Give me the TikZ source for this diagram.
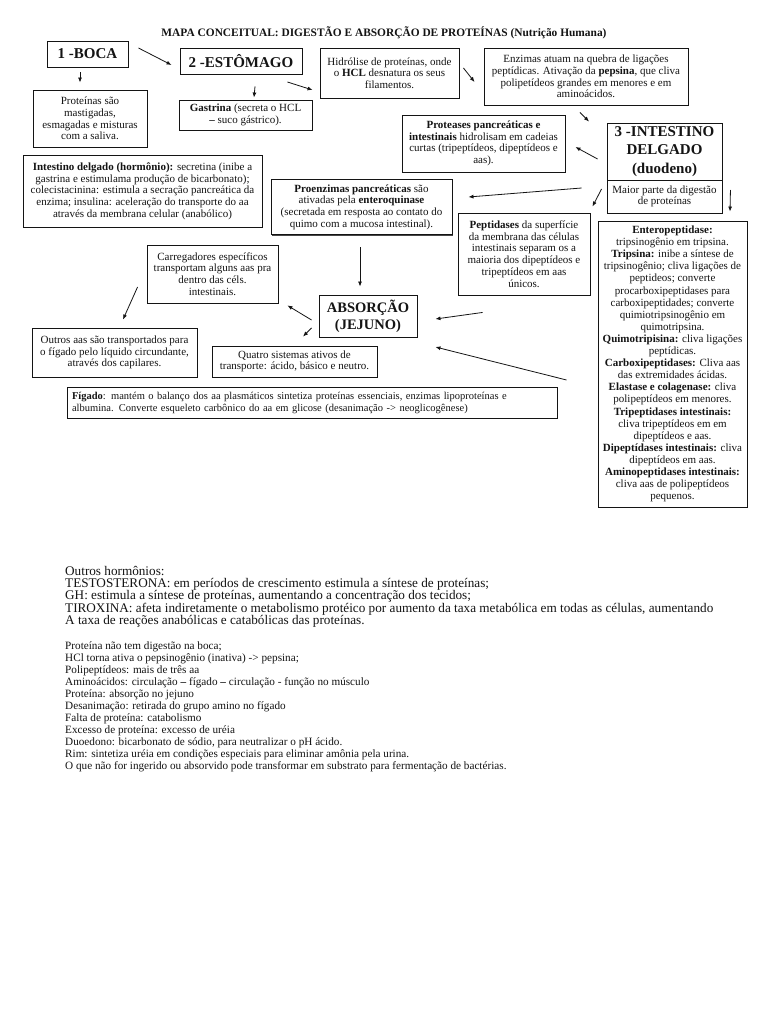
\documentclass[tikz,border=0pt]{standalone}
\usepackage{fontspec}
\setmainfont{Liberation Serif}
\usetikzlibrary{arrows.meta,calc,shadows}
\definecolor{mcInk}{RGB}{20,20,20}
\definecolor{mcShade}{RGB}{70,70,70}
\tikzset{
    base/.style={font=\fontsize{11}{11.7}\selectfont, align=center, text=mcInk},
    box/.style={base, rectangle, draw=mcInk, line width=0.9pt, fill=white, inner sep=2pt,
                drop shadow={shadow xshift=1pt, shadow yshift=-1pt, fill=mcShade, opacity=1}},
    head/.style={box, font=\fontsize{15}{18.5}\selectfont\bfseries},
    flow/.style={-{Latex[length=5pt,width=4pt]}, line width=0.8pt, color=mcInk},
    note/.style={font=\fontsize{13.2}{12}\selectfont, align=left, anchor=north west,
                 inner sep=0pt, text=mcInk}
}

\begin{document}
\begin{tikzpicture}[x=1pt, y=-1pt]
  \useasboundingbox[fill=white] (0,0) rectangle (768,1024);

  % Title
  \node[base, font=\fontsize{11.4}{12}\selectfont\bfseries] (title) at (384,33)
    {MAPA CONCEITUAL: DIGESTÃO E ABSORÇÃO DE PROTEÍNAS (Nutrição Humana)};

  % Organs
  \node[head, minimum width=81, minimum height=26] (boca) at (87.5,54) {1 -BOCA};
  \node[head, minimum width=122, minimum height=26] (estomago) at (241,61) {2 -ESTÔMAGO};
  \node[head, minimum width=115, minimum height=57] (intestino) at (664.5,151.5)
    {3 -INTESTINO\\DELGADO\\(duodeno)};
  \node[box, minimum width=115, minimum height=33] (intestinob) at (664.5,196.5)
    {Maior parte da digestão\\de proteínas};
  \node[head, font=\fontsize{14.5}{17}\selectfont\bfseries, minimum width=98, minimum height=42] (absorcao) at (368,316)
    {ABSORÇÃO\\(JEJUNO)};

  % Notes round the organs
  \node[box, minimum width=114, minimum height=57] (mastiga) at (90,118.5)
    {Proteínas são\\mastigadas,\\esmagadas e misturas\\com a saliva.};
  \node[box, minimum width=133, minimum height=30] (gastrina) at (245.5,115)
    {\textbf{Gastrina} (secreta o HCL\\\textbf{--} suco gástrico).};
  \node[box, minimum width=139, minimum height=50] (hidrolise) at (389.5,73)
    {Hidrólise de proteínas, onde\\o \textbf{HCL} desnatura os seus\\filamentos.};
  \node[box, minimum width=204, minimum height=57] (enzimas) at (586,76.5)
    {Enzimas atuam na quebra de ligações\\peptídicas. Ativação da \textbf{pepsina}, que cliva\\polipetídeos grandes em menores e em\\aminoácidos.};
  \node[box, minimum width=163, minimum height=57] (proteases) at (483.5,143.5)
    {\textbf{Proteases pancreáticas e}\\\textbf{intestinais} hidrolisam em cadeias\\curtas (tripeptídeos, dipeptídeos e\\aas).};
  \node[box, minimum width=239, minimum height=72] (hormonio) at (142.5,191)
    {\textbf{Intestino delgado (hormônio):} secretina (inibe a\\gastrina e estimulama produção de bicarbonato);\\colecistacinina: estimula a secração pancreática da\\enzima; insulina: aceleração do transporte do aa\\através da membrana celular (anabólico)};
  \node[box, minimum width=181, minimum height=55] (proenzimas) at (361.5,207)
    {\textbf{Proenzimas pancreáticas} são\\ativadas pela \textbf{enteroquinase}\\(secretada em resposta ao contato do\\quimo com a mucosa intestinal).};
  \node[box, minimum width=132, minimum height=82] (peptidases) at (524,254)
    {\textbf{Peptidases} da superfície\\da membrana das células\\intestinais separam os a\\maioria dos dipeptídeos e\\tripeptídeos em aas\\únicos.};
  \node[box, font=\fontsize{11}{12.1}\selectfont, minimum width=149, minimum height=286] (enteropep) at (672.5,364)
    {\textbf{Enteropeptidase:}\\tripsinogênio em tripsina.\\\textbf{Tripsina:} inibe a síntese de\\tripsinogênio; cliva ligações de\\peptideos; converte\\procarboxipeptidases para\\carboxipeptidades; converte\\quimiotripsinogênio em\\quimotripsina.\\\textbf{Quimotripisina:} cliva ligações\\peptídicas.\\\textbf{Carboxipeptidases:} Cliva aas\\das extremidades ácidas.\\\textbf{Elastase e colagenase:} cliva\\polipeptídeos em menores.\\\textbf{Tripeptidases intestinais:}\\cliva tripeptídeos em em\\dipeptídeos e aas.\\\textbf{Dipeptídases intestinais:} cliva\\dipeptídeos em aas.\\\textbf{Aminopeptidases intestinais:}\\cliva aas de polipeptídeos\\pequenos.};
  \node[box, minimum width=131, minimum height=58] (carregadores) at (212.5,274)
    {Carregadores específicos\\transportam alguns aas pra\\dentro das céls.\\intestinais.};
  \node[box, minimum width=165, minimum height=49] (outros) at (114.5,352.5)
    {Outros aas são transportados para\\o fígado pelo líquido circundante,\\através dos capilares.};
  \node[box, minimum width=165, minimum height=31] (quatro) at (294.5,361.5)
    {Quatro sistemas ativos de\\transporte: ácido, básico e neutro.};
  \node[box, font=\fontsize{10.5}{12}\selectfont, align=left, text width=480, minimum width=490, minimum height=31] (figado) at (312,402.5)
    {\textbf{Fígado}: mantém o balanço dos aa plasmáticos sintetiza proteínas essenciais, enzimas lipoproteínas e\\albumina. Converte esqueleto carbônico do aa em glicose (desanimação -> neoglicogênese)};

  % Arrows
  \draw[flow] ($(boca.east)+(10,-6)$) -- ($(estomago.west)+(-8,4)$);
  \draw[flow] ($(boca.south)+(-7.5,5)$) -- ($(mastiga.north)+(-10,-7)$);
  \draw[flow] ($(estomago.south)+(14,12)$) -- ($(gastrina.north)+(8.5,-2)$);
  \draw[flow] ($(estomago.east)+(-15,21)$) -- ($(hidrolise.west)+(-7,17)$);
  \draw[flow] ($(hidrolise.east)+(4,-5)$) -- ($(enzimas.west)+(-9,5.5)$);
  \draw[flow] ($(enzimas.south)+(-6,7)$) -- ($(intestino.north)+(-75.5,-1)$);
  \draw[flow] ($(intestino.west)+(-9,7.5)$) -- ($(proteases.east)+(10,3.5)$);
  \draw[flow] ($(intestinob.west)+(-25,-8.5)$) -- ($(proenzimas.east)+(16,-10)$);
  \draw[flow] ($(intestinob.west)+(-5,-7.5)$) -- ($(peptidases.north east)+(2,-6)$);
  \draw[flow] ($(intestinob.east)+(8,-6.5)$) -- ($(enteropep.north)+(57.5,-9)$);
  \draw[flow] ($(proenzimas.south)+(-1.5,12.5)$) -- ($(absorcao.north)+(-8,-8)$);
  \draw[flow] ($(absorcao.west)+(-7,4)$) -- ($(carregadores.south east)+(9,2)$);
  \draw[flow] ($(absorcao.west)+(-7,12)$) -- ($(quatro.north)+(8.5,-9)$);
  \draw[flow] ($(carregadores.west)+(-9,13)$) -- ($(outros.north)+(8.5,-8)$);
  \draw[flow] ($(peptidases.south west)+(25,17)$) -- ($(absorcao.east)+(18,3)$);
  \draw[flow] ($(enteropep.west)+(-31,16)$) -- ($(absorcao.east)+(18,31)$);

  % Free notes
  \node[note] (hormonios) at (65,566)
    {Outros hormônios:\\
     TESTOSTERONA: em períodos de crescimento estimula a síntese de proteínas;\\
     GH: estimula a síntese de proteínas, aumentando a concentração dos tecidos;\\
     TIROXINA: afeta indiretamente o metabolismo protéico por aumento da taxa metabólica em todas as células, aumentando\\
     A taxa de reações anabólicas e catabólicas das proteínas.};
  \node[note, font=\fontsize{11.2}{12}\selectfont] (notas) at (65,642)
    {Proteína não tem digestão na boca;\\
     HCl torna ativa o pepsinogênio (inativa) -> pepsina;\\
     Polipeptídeos: mais de três aa\\
     Aminoácidos: circulação \textbf{--} fígado \textbf{--} circulação - função no músculo\\
     Proteína: absorção no jejuno\\
     Desanimação: retirada do grupo amino no fígado\\
     Falta de proteína: catabolismo\\
     Excesso de proteína: excesso de uréia\\
     Duoedono: bicarbonato de sódio, para neutralizar o pH ácido.\\
     Rim: sintetiza uréia em condições especiais para eliminar amônia pela urina.\\
     O que não for ingerido ou absorvido pode transformar em substrato para fermentação de bactérias.};
\end{tikzpicture}
\end{document}
